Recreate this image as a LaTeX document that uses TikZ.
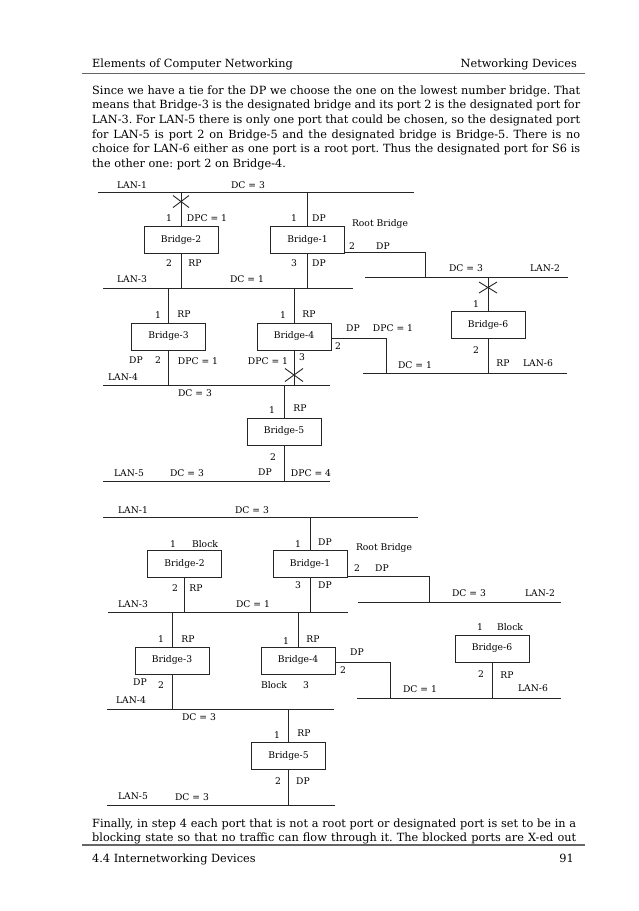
\documentclass[tikz,border=0pt]{standalone}
\usepackage{fontspec}
\setmainfont{DejaVu Serif}
\frenchspacing
\begin{document}
\begin{tikzpicture}[x=1pt,y=-1pt,
  lanline/.style={line width=1pt, black!85},
  link/.style={line width=1pt, black!85},
  bridge/.style={draw=black!85, line width=0.9pt, minimum width=74pt, minimum height=27pt, inner sep=0pt, font=\fontsize{9.2}{10}\selectfont},
  lbl/.style={font=\fontsize{9.2}{10}\selectfont, inner sep=0pt, text height=6.7pt, text depth=0pt},
  body/.style={font=\fontsize{11.3}{13}\selectfont, inner sep=0pt, anchor=base west},
  xmark/.style={line width=0.9pt, black!85},
  pagerule/.style={line width=1.3pt, black!60}]
\useasboundingbox (0,0) rectangle (638,911);
\fill[white] (0,0) rectangle (638,911);

% ---------- header / footer ----------
\node[body] (hl) at (92,67) {Elements of Computer Networking};
\node[body, anchor=base east] (hr) at (577,67) {Networking Devices};
\coordinate (hra) at (82,73.5); \coordinate (hrb) at (585,73.5);
\draw[pagerule] (hra) -- (hrb);
\coordinate (fra) at (82,845); \coordinate (frb) at (585,845);
\draw[pagerule] (fra) -- (frb);
\node[body] (fl) at (92,862) {4.4 Internetworking Devices};
\node[body, anchor=base east] (fr) at (574,862) {91};

% ---------- body text ----------
\node[body] (p1) at (92,94) {\makebox[488pt][s]{Since we have a tie for the DP we choose the one on the lowest number bridge. That}};
\node[body] (p2) at (92,108.7) {\makebox[488pt][s]{means that Bridge-3 is the designated bridge and its port 2 is the designated port for}};
\node[body] (p3) at (92,123.4) {\makebox[488pt][s]{LAN-3. For LAN-5 there is only one port that could be chosen, so the designated port}};
\node[body] (p4) at (92,138.1) {\makebox[488pt][s]{for LAN-5 is port 2 on Bridge-5 and the designated bridge is Bridge-5. There is no}};
\node[body] (p5) at (92,152.8) {\makebox[488pt][s]{choice for LAN-6 either as one port is a root port. Thus the designated port for S6 is}};
\node[body] (p6) at (92,167.5) {the other one: port 2 on Bridge-4.};
\node[body] (q1) at (92,827) {\makebox[484pt][s]{Finally, in step 4 each port that is not a root port or designated port is set to be in a}};
\node[body] (q2) at (92,841.5) {\makebox[484pt][s]{blocking state so that no traffic can flow through it. The blocked ports are X-ed out}};

% =============== DIAGRAM 1 ===============
\coordinate (A1a) at (98,192);    \coordinate (A1b) at (414,192);
\coordinate (A3a) at (103,288);   \coordinate (A3b) at (353,288);
\coordinate (A2a) at (365,277);   \coordinate (A2b) at (568,277);
\coordinate (A4a) at (103,385.5); \coordinate (A4b) at (330,385.5);
\coordinate (A5a) at (103,481);   \coordinate (A5b) at (330,481);
\coordinate (A6a) at (363,373);   \coordinate (A6b) at (567,373);
\foreach \p/\q in {A1a/A1b,A3a/A3b,A2a/A2b,A4a/A4b,A5a/A5b,A6a/A6b}
  \draw[lanline] (\p) -- (\q);

\node[bridge] (ab1) at (307.5,240) {Bridge-1};
\node[bridge] (ab2) at (181,240) {Bridge-2};
\node[bridge] (ab3) at (168.5,336.5) {Bridge-3};
\node[bridge] (ab4) at (294,336.5) {Bridge-4};
\node[bridge] (ab5) at (284,431.5) {Bridge-5};
\node[bridge] (ab6) at (488,325) {Bridge-6};

\draw[link] (ab2.north) -- (ab2.north |- A1a);
\draw[link] (ab1.north) -- (ab1.north |- A1a);
\draw[link] (ab2.south) -- (ab2.south |- A3a);
\draw[link] (ab1.south) -- (ab1.south |- A3a);
\coordinate (ac12) at (425,277);
\draw[link] ([yshift=1.5pt]ab1.south east) -| (ac12);
\draw[link] (ab3.north) -- (ab3.north |- A3a);
\draw[link] (ab4.north) -- (ab4.north |- A3a);
\draw[link] (ab3.south) -- (ab3.south |- A4a);
\draw[link] (ab4.south) -- (ab4.south |- A4a);
\draw[link] (ab5.north) -- (ab5.north |- A4a);
\draw[link] (ab5.south) -- (ab5.south |- A5a);
\coordinate (ac46) at (386,373);
\draw[link] ([yshift=-1.5pt]ab4.east) -| (ac46);
\draw[link] (ab6.north) -- (ab6.north |- A2a);
\draw[link] (ab6.south) -- (ab6.south |- A6a);

\coordinate (ax1) at (181,201.5);
\coordinate (ax2) at (294,375);
\coordinate (ax3) at (488,287.5);
\draw[xmark] (ax1) +(-8,-6) -- +(8,6) (ax1) +(-8,6) -- +(8,-6);
\draw[xmark] (ax2) +(-9,-6.5) -- +(9,6.5) (ax2) +(-9,6.5) -- +(9,-6.5);
\draw[xmark] (ax3) +(-9,-5.5) -- +(9,5.5) (ax3) +(-9,5.5) -- +(9,-5.5);

\foreach \n/\x/\y/\t in {
  al1/132/185/LAN-1, al2/248/185/DC = 3,
  al3/169/218/1, al4/207/218/DPC = 1,
  al5/294/218/1, al6/319/218/DP, al7/380/223/Root Bridge,
  al8/352/246/2, al9/383/246/DP,
  al10/169/263/2, al11/195/263/RP,
  al12/294/263/3, al13/319/263/DP,
  al14/132/279/LAN-3, al15/247/279/DC = 1,
  al16/466/268/DC = 3, al17/545/268/LAN-2,
  al18/476/304/1,
  al19/476/350/2, al20/503/363/RP, al21/538/363/LAN-6, al22/415/365/DC = 1,
  al23/353/328/DP, al24/393/328/DPC = 1, al25/338/346/2,
  al26/158/315/1, al27/184/314/RP, al28/136/360/DP, al29/158/360/2, al30/198/361/DPC = 1,
  al31/123/377/LAN-4, al32/195/393/DC = 3,
  al33/283/315/1, al34/309/314/RP, al35/268/361/DPC = 1, al36/302/357/3,
  al37/272/410/1, al38/300/408/RP, al39/273/457/2, al40/265/472/DP, al41/311/473/DPC = 4,
  al42/129/473/LAN-5, al43/187/473/DC = 3}
  \node[lbl] (\n) at (\x,\y) {\t};

% =============== DIAGRAM 2 ===============
\coordinate (B1a) at (103,517);   \coordinate (B1b) at (418,517);
\coordinate (B3a) at (108,612);   \coordinate (B3b) at (348,612);
\coordinate (B2a) at (358,602);   \coordinate (B2b) at (561,602);
\coordinate (B4a) at (107,709);   \coordinate (B4b) at (334,709);
\coordinate (B5a) at (107,805);   \coordinate (B5b) at (335,805);
\coordinate (B6a) at (357,698);   \coordinate (B6b) at (561,698);
\foreach \p/\q in {B1a/B1b,B3a/B3b,B2a/B2b,B4a/B4b,B5a/B5b,B6a/B6b}
  \draw[lanline] (\p) -- (\q);

\node[bridge] (bb1) at (310,564) {Bridge-1};
\node[bridge] (bb2) at (184.5,564) {Bridge-2};
\node[bridge] (bb3) at (172,660.5) {Bridge-3};
\node[bridge] (bb4) at (298,660.5) {Bridge-4};
\node[bridge] (bb5) at (288.5,756) {Bridge-5};
\node[bridge] (bb6) at (492,648.5) {Bridge-6};

\draw[link] (bb1.north) -- (bb1.north |- B1a);
\draw[link] (bb1.south) -- (bb1.south |- B3a);
\draw[link] (bb2.south) -- (bb2.south |- B3a);
\coordinate (bc12) at (429,602);
\draw[link] ([yshift=1.5pt]bb1.south east) -| (bc12);
\draw[link] (bb3.north) -- (bb3.north |- B3a);
\draw[link] (bb4.north) -- (bb4.north |- B3a);
\draw[link] (bb3.south) -- (bb3.south |- B4a);
\draw[link] (bb5.north) -- (bb5.north |- B4a);
\draw[link] (bb5.south) -- (bb5.south |- B5a);
\coordinate (bc46) at (390,698);
\draw[link] ([yshift=-1.5pt]bb4.east) -| (bc46);
\draw[link] (bb6.south) -- (bb6.south |- B6a);

\foreach \n/\x/\y/\t in {
  bl1/133/510/LAN-1, bl2/252/510/DC = 3,
  bl3/298/544/1, bl4/325/542/DP, bl5/384/547/Root Bridge,
  bl6/357/568/2, bl7/382/568/DP,
  bl8/298/585/3, bl9/325/585/DP,
  bl10/173/544/1, bl11/205/544/Block,
  bl12/175/588/2, bl13/196/588/RP,
  bl14/133/604/LAN-3, bl15/253/604/DC = 1,
  bl16/469/593/DC = 3, bl17/540/593/LAN-2,
  bl18/161/639/1, bl19/188/639/RP, bl20/140/682/DP, bl21/161/685/2,
  bl22/131/700/LAN-4, bl23/199/717/DC = 3,
  bl24/286/641/1, bl25/313/639/RP, bl26/274/685/Block, bl27/306/685/3,
  bl28/357/652/DP, bl29/343/670/2,
  bl30/277/735/1, bl31/304/733/RP, bl32/278/781/2, bl33/303/781/DP,
  bl34/133/796/LAN-5, bl35/192/797/DC = 3,
  bl36/480/627/1, bl37/510/627/Block, bl38/481/674/2, bl39/507/675/RP,
  bl40/533/688/LAN-6, bl41/420/689/DC = 1}
  \node[lbl] (\n) at (\x,\y) {\t};
\end{tikzpicture}
\end{document}
